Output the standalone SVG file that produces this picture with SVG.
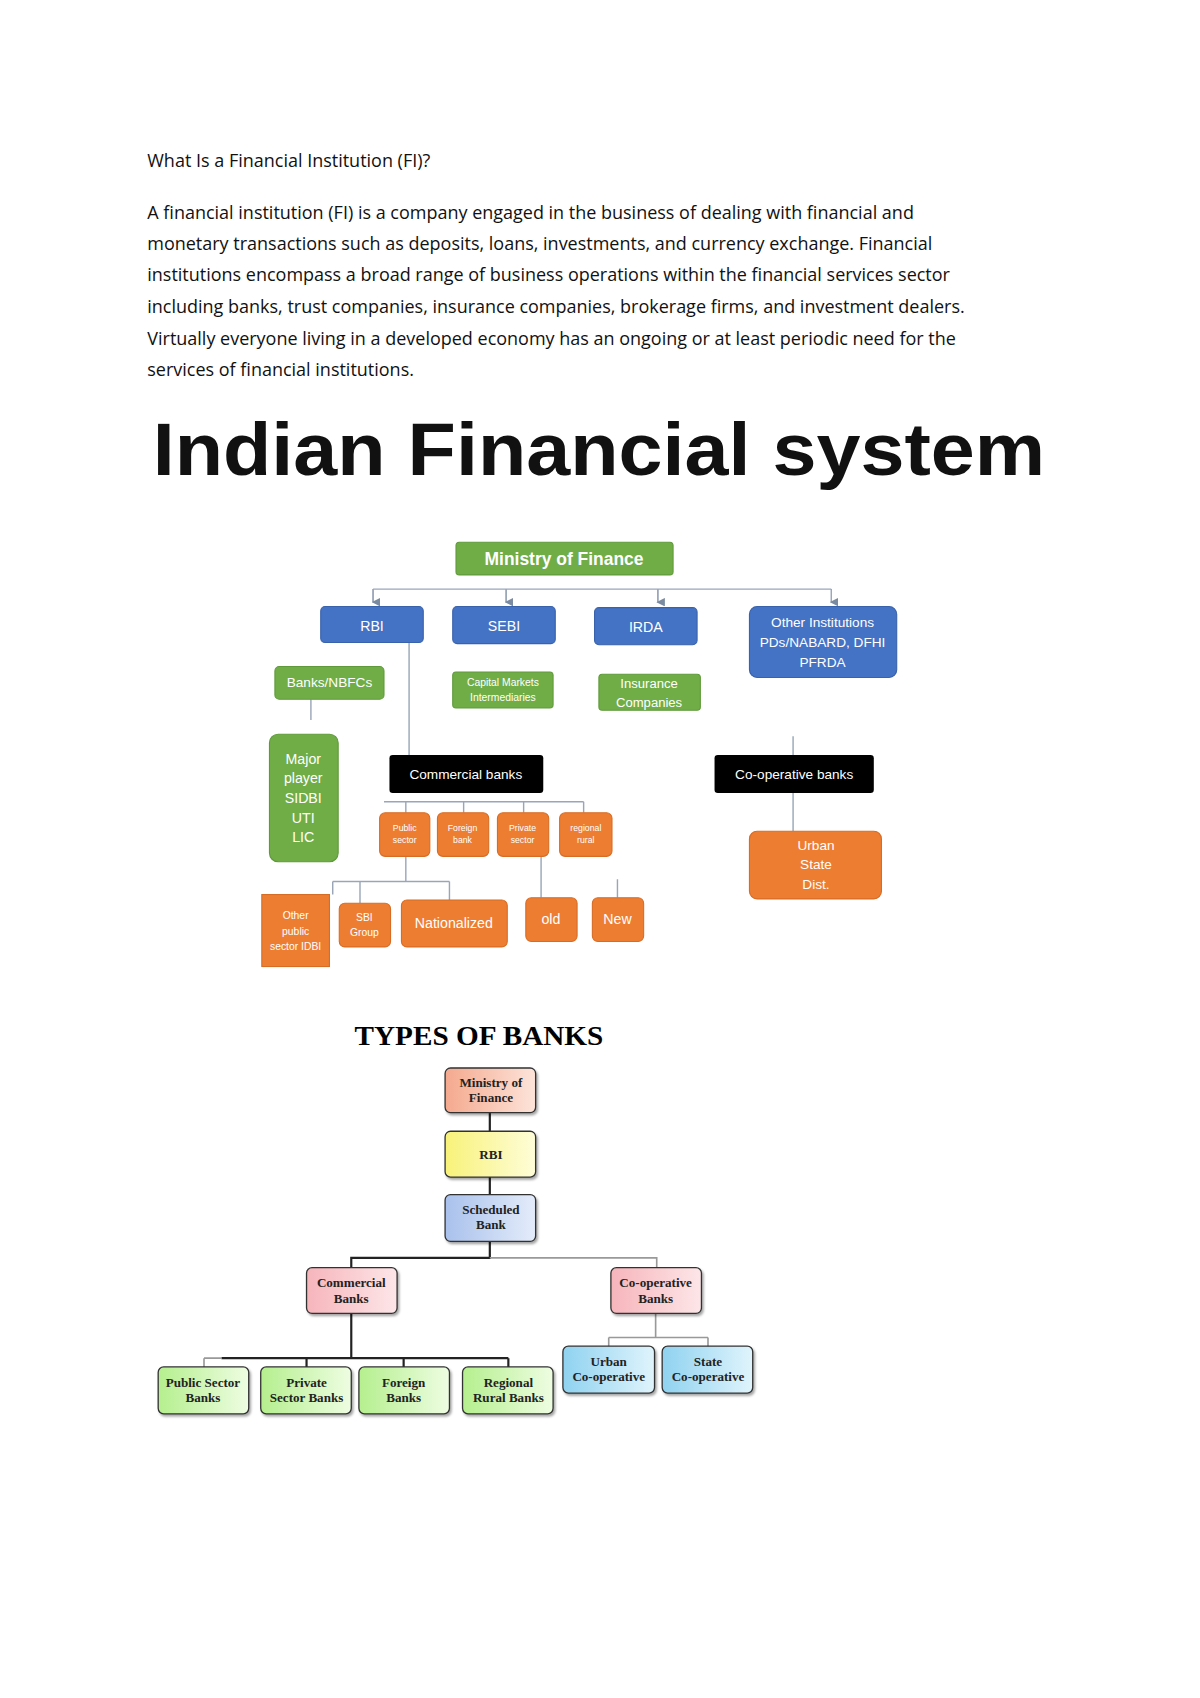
<svg xmlns="http://www.w3.org/2000/svg" width="1200" height="1698" viewBox="0 0 1200 1698">
<style>
.p{font-family:"Open Sans","Liberation Sans",sans-serif;font-size:16.5px;fill:#111}
.w{font-family:"Liberation Sans",sans-serif;fill:#fff;text-anchor:middle}
.s{font-family:"Liberation Serif",serif;font-weight:bold;font-size:12px;fill:#222;text-anchor:middle}
.g{fill:#70ad47;stroke:#5f9a3a}
.b{fill:#4472c4;stroke:#3a62aa}
.o{fill:#ed7d31;stroke:#d76c25}
.k{fill:#000}
.c{fill:none;stroke:#9aa6b8;stroke-width:1.3}
.d{fill:none;stroke:#222;stroke-width:2}
.bx{stroke:#333;stroke-width:1.2;filter:url(#sh)}
</style>
<defs>
<marker id="a" markerWidth="6" markerHeight="6" refX="3" refY="5" orient="auto-start-reverse" viewBox="0 0 6 6"><path d="M0,0 L6,0 L3,6z" fill="#7a8aa0" transform="rotate(0)"/></marker>
<linearGradient id="gs" x1="0" x2="1"><stop offset="0" stop-color="#f4a98e"/><stop offset="1" stop-color="#fde4da"/></linearGradient>
<linearGradient id="gy" x1="0" x2="1"><stop offset="0" stop-color="#f8f27a"/><stop offset="1" stop-color="#fefdd8"/></linearGradient>
<linearGradient id="gb" x1="0" x2="1"><stop offset="0" stop-color="#a9c1ec"/><stop offset="1" stop-color="#e4ecfa"/></linearGradient>
<linearGradient id="gp" x1="0" x2="1"><stop offset="0" stop-color="#f6b5bb"/><stop offset="1" stop-color="#fde6e8"/></linearGradient>
<linearGradient id="gg" x1="0" x2="1"><stop offset="0" stop-color="#b5ef8e"/><stop offset="1" stop-color="#eefde2"/></linearGradient>
<linearGradient id="gc" x1="0" x2="1"><stop offset="0" stop-color="#8fd2f0"/><stop offset="1" stop-color="#e0f4fc"/></linearGradient>
<filter id="sh" x="-10%" y="-10%" width="130%" height="140%"><feDropShadow dx="1.5" dy="2" stdDeviation="1.2" flood-color="#000" flood-opacity="0.35"/></filter>
</defs>
<rect width="1200" height="1698" fill="#fff"/>
<g transform="scale(1.0909)">
<g id="intro">
<text class="p" x="135" y="153">What Is a Financial Institution (FI)?</text>
<text class="p" x="135" y="201">A financial institution (FI) is a company engaged in the business of dealing with financial and</text>
<text class="p" x="135" y="229">monetary transactions such as deposits, loans, investments, and currency exchange. Financial</text>
<text class="p" x="135" y="258">institutions encompass a broad range of business operations within the financial services sector</text>
<text class="p" x="135" y="287">including banks, trust companies, insurance companies, brokerage firms, and investment dealers.</text>
<text class="p" x="135" y="316">Virtually everyone living in a developed economy has an ongoing or at least periodic need for the</text>
<text class="p" x="135" y="345">services of financial institutions.</text>
<text x="140" y="435" font-family="Liberation Sans,sans-serif" font-weight="bold" font-size="68" fill="#111" textLength="818" lengthAdjust="spacingAndGlyphs">Indian Financial system</text>
</g>
<g id="connectors1">
<path class="c" d="M342,540 H762 M342,540 V552 M464,540 V552 M603,540 V552 M762,540 V552" marker-end="url(#a)"/>
<path class="c" d="M342,540 V552" marker-end="url(#a)"/>
<path class="c" d="M464,540 V552" marker-end="url(#a)"/>
<path class="c" d="M603,540 V552" marker-end="url(#a)"/>
<path class="c" d="M375,589 V692 M727,675 V692 M727,727 V762 M352,735 H535 M372,735 V745 M425,735 V745 M480,735 V745 M535,735 V745 M372,785 V808 M305,808 H412 M305,808 V820 M330,808 V828 M412,808 V825 M496,785 V823 M566,806 V823 M285,641 V660"/>
</g>
<g id="n-mof"><rect class="g" x="418" y="497" width="199" height="30" rx="3"/><text class="w" x="517" y="518" font-size="16" font-weight="bold">Ministry of Finance</text></g>
<g id="n-rbi"><rect class="b" x="294" y="556" width="94" height="33" rx="4"/><text class="w" x="341" y="578" font-size="13">RBI</text></g>
<g id="n-sebi"><rect class="b" x="415" y="556" width="94" height="34" rx="4"/><text class="w" x="462" y="578" font-size="13">SEBI</text></g>
<g id="n-irda"><rect class="b" x="545" y="557" width="94" height="34" rx="4"/><text class="w" x="592" y="579" font-size="13">IRDA</text></g>
<g id="n-other"><rect class="b" x="687" y="556" width="135" height="65" rx="7"/><text class="w" font-size="12.5"><tspan x="754" y="575">Other Institutions</tspan><tspan x="754" y="593">PDs/NABARD, DFHI</tspan><tspan x="754" y="611">PFRDA</tspan></text></g>
<g id="n-nbfc"><rect class="g" x="252" y="611" width="100" height="30" rx="4"/><text class="w" x="302" y="630" font-size="12.5">Banks/NBFCs</text></g>
<g id="n-cap"><rect class="g" x="415" y="616" width="92" height="33" rx="3"/><text class="w" font-size="9.5"><tspan x="461" y="629">Capital Markets</tspan><tspan x="461" y="643">Intermediaries</tspan></text></g>
<g id="n-ins"><rect class="g" x="549" y="618" width="93" height="33" rx="3"/><text class="w" font-size="12"><tspan x="595" y="631">Insurance</tspan><tspan x="595" y="648">Companies</tspan></text></g>
<g id="n-major"><rect class="g" x="247" y="673" width="63" height="117" rx="8"/><text class="w" font-size="13"><tspan x="278" y="700">Major</tspan><tspan x="278" y="718">player</tspan><tspan x="278" y="736">SIDBI</tspan><tspan x="278" y="754">UTI</tspan><tspan x="278" y="772">LIC</tspan></text></g>
<g id="n-comm"><rect class="k" x="357" y="692" width="141" height="35" rx="3"/><text class="w" x="427" y="714" font-size="12.5">Commercial banks</text></g>
<g id="n-coop"><rect class="k" x="655" y="692" width="146" height="35" rx="3"/><text class="w" x="728" y="714" font-size="12.5">Co-operative banks</text></g>
<g id="n-pub"><rect class="o" x="348" y="745" width="46" height="40" rx="5"/><text class="w" font-size="8"><tspan x="371" y="762">Public</tspan><tspan x="371" y="773">sector</tspan></text></g>
<g id="n-for"><rect class="o" x="401" y="745" width="47" height="40" rx="5"/><text class="w" font-size="8"><tspan x="424" y="762">Foreign</tspan><tspan x="424" y="773">bank</tspan></text></g>
<g id="n-pri"><rect class="o" x="456" y="745" width="47" height="40" rx="5"/><text class="w" font-size="8"><tspan x="479" y="762">Private</tspan><tspan x="479" y="773">sector</tspan></text></g>
<g id="n-reg"><rect class="o" x="513" y="745" width="48" height="40" rx="5"/><text class="w" font-size="8"><tspan x="537" y="762">regional</tspan><tspan x="537" y="773">rural</tspan></text></g>
<g id="n-urban"><rect class="o" x="687" y="762" width="121" height="62" rx="7"/><text class="w" font-size="12.5"><tspan x="748" y="779">Urban</tspan><tspan x="748" y="797">State</tspan><tspan x="748" y="815">Dist.</tspan></text></g>
<g id="n-otherpub"><rect class="o" x="240" y="820" width="62" height="66"/><text class="w" font-size="9.5"><tspan x="271" y="842">Other</tspan><tspan x="271" y="857">public</tspan><tspan x="271" y="871">sector IDBI</tspan></text></g>
<g id="n-sbi"><rect class="o" x="311" y="828" width="47" height="40" rx="5"/><text class="w" font-size="9.5"><tspan x="334" y="844">SBI</tspan><tspan x="334" y="858">Group</tspan></text></g>
<g id="n-nat"><rect class="o" x="368" y="825" width="97" height="43" rx="5"/><text class="w" x="416" y="851" font-size="13">Nationalized</text></g>
<g id="n-old"><rect class="o" x="482" y="823" width="47" height="40" rx="5"/><text class="w" x="505" y="847" font-size="13">old</text></g>
<g id="n-new"><rect class="o" x="543" y="823" width="47" height="40" rx="5"/><text class="w" x="566" y="847" font-size="13">New</text></g>

<text x="325" y="958" font-family="Liberation Serif,serif" font-weight="bold" font-size="26" fill="#000" textLength="228" lengthAdjust="spacingAndGlyphs">TYPES OF BANKS</text>
<g id="connectors2">
<path class="d" d="M449,1020 V1037 M449,1079 V1095 M449,1138 V1153 H322 V1162 M322,1204 V1245 M203,1245 H466 M281,1245 V1253 M466,1245 V1253 M370,1245 V1253"/>
<path fill="none" stroke="#999" stroke-width="1.5" d="M449,1153 H602 V1162 M601,1204 V1226 M558,1226 H649 M558,1226 V1234 M649,1226 V1234 M187,1245 H203 M187,1245 V1253"/>
</g>
<g id="m-mof"><rect class="bx" fill="url(#gs)" x="408" y="979" width="83" height="41" rx="5"/><text class="s"><tspan x="450" y="996">Ministry of</tspan><tspan x="450" y="1010">Finance</tspan></text></g>
<g id="m-rbi"><rect class="bx" fill="url(#gy)" x="408" y="1037" width="83" height="42" rx="5"/><text class="s" x="450" y="1062">RBI</text></g>
<g id="m-sch"><rect class="bx" fill="url(#gb)" x="408" y="1095" width="83" height="43" rx="5"/><text class="s"><tspan x="450" y="1113">Scheduled</tspan><tspan x="450" y="1127">Bank</tspan></text></g>
<g id="m-comm"><rect class="bx" fill="url(#gp)" x="281" y="1162" width="83" height="42" rx="5"/><text class="s"><tspan x="322" y="1180">Commercial</tspan><tspan x="322" y="1194">Banks</tspan></text></g>
<g id="m-coop"><rect class="bx" fill="url(#gp)" x="560" y="1162" width="83" height="42" rx="5"/><text class="s"><tspan x="601" y="1180">Co-operative</tspan><tspan x="601" y="1194">Banks</tspan></text></g>
<g id="m-pub"><rect class="bx" fill="url(#gg)" x="145" y="1253" width="83" height="43" rx="5"/><text class="s"><tspan x="186" y="1271">Public Sector</tspan><tspan x="186" y="1285">Banks</tspan></text></g>
<g id="m-pri"><rect class="bx" fill="url(#gg)" x="239" y="1253" width="83" height="43" rx="5"/><text class="s"><tspan x="281" y="1271">Private</tspan><tspan x="281" y="1285">Sector Banks</tspan></text></g>
<g id="m-for"><rect class="bx" fill="url(#gg)" x="329" y="1253" width="83" height="43" rx="5"/><text class="s"><tspan x="370" y="1271">Foreign</tspan><tspan x="370" y="1285">Banks</tspan></text></g>
<g id="m-reg"><rect class="bx" fill="url(#gg)" x="424" y="1253" width="83" height="43" rx="5"/><text class="s"><tspan x="466" y="1271">Regional</tspan><tspan x="466" y="1285">Rural Banks</tspan></text></g>
<g id="m-urb"><rect class="bx" fill="url(#gc)" x="516" y="1234" width="84" height="43" rx="5"/><text class="s"><tspan x="558" y="1252">Urban</tspan><tspan x="558" y="1266">Co-operative</tspan></text></g>
<g id="m-sta"><rect class="bx" fill="url(#gc)" x="607" y="1234" width="83" height="43" rx="5"/><text class="s"><tspan x="649" y="1252">State</tspan><tspan x="649" y="1266">Co-operative</tspan></text></g>
</g>
</svg>
